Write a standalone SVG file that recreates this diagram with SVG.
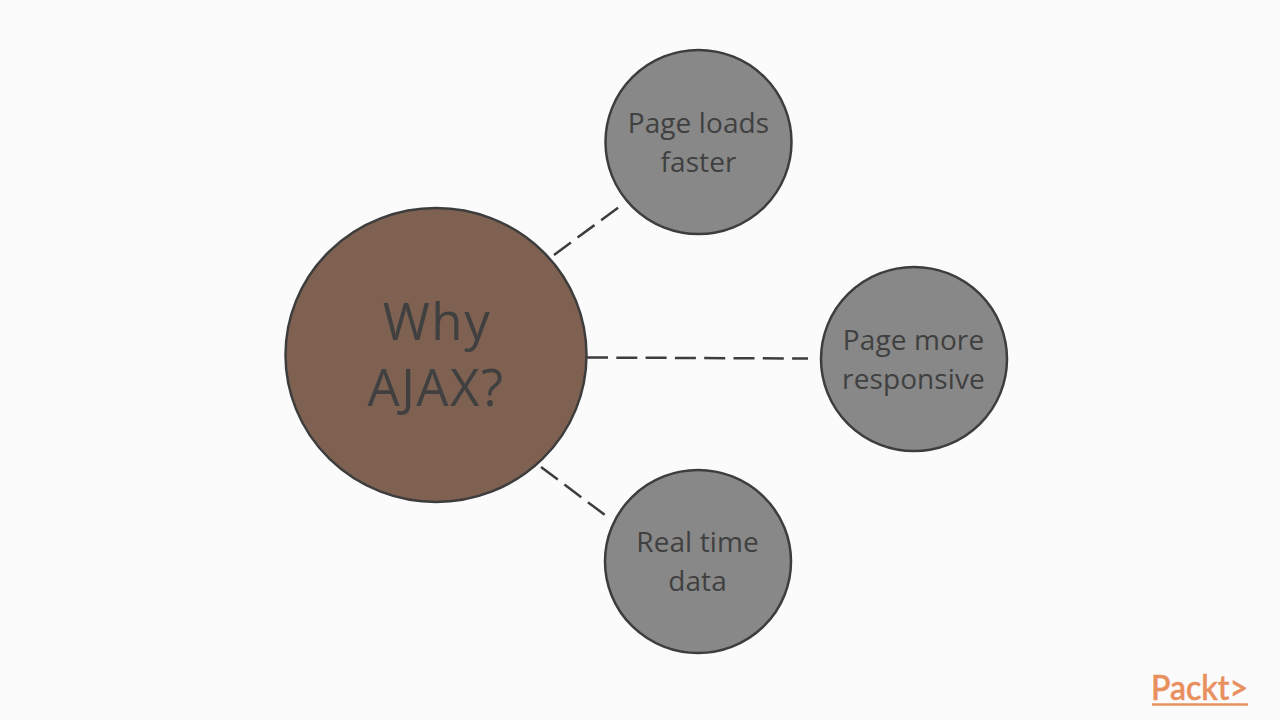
<svg xmlns="http://www.w3.org/2000/svg" width="1280" height="720" viewBox="0 0 1280 720">
<style>
.n{fill:#888888;stroke:#3d3d3d;stroke-width:2.500}
.t{font-family:"Open Sans","Noto Sans",sans-serif;fill:#404040;text-anchor:middle;font-size:28px;letter-spacing:.1px}
.b{font-size:51px;letter-spacing:1.500px}
.c{stroke:#3d3d3d;stroke-width:2.500;stroke-dasharray:21 8.300;fill:none}
</style>
<rect width="1280" height="720" fill="#fbfbfb"/>
<g id="connectors">
<path class="c" d="M554 255L619 207"/>
<path class="c" d="M587 357.500L808 358.500"/>
<path class="c" d="M541 467L605 515"/>
</g>
<g id="why"><ellipse class="n" style="fill:#7f6151" cx="436" cy="355" rx="150.500" ry="147"/><text class="t b" x="437" y="340">Why</text><text class="t b" x="436" y="406">AJAX?</text></g>
<g id="faster"><ellipse class="n" cx="698.500" cy="142" rx="93" ry="92"/><text class="t" x="698.500" y="133">Page loads</text><text class="t" x="698.500" y="172">faster</text></g>
<g id="responsive"><ellipse class="n" cx="914" cy="359" rx="93" ry="92"/><text class="t" x="913.500" y="350">Page more</text><text class="t" x="913.500" y="389">responsive</text></g>
<g id="realtime"><ellipse class="n" cx="698" cy="561.500" rx="93" ry="91.500"/><text class="t" x="697.500" y="552">Real time</text><text class="t" x="697.500" y="591">data</text></g>
<g id="logo"><text x="1151" y="700" font-family="Lato,sans-serif" font-size="34" font-weight="500" fill="#e9905f" stroke="#e9905f" stroke-width=".6" textLength="97" lengthAdjust="spacingAndGlyphs">Packt&gt;</text><path d="M1152 704.500H1248" stroke="#e9905f" stroke-width="2.500"/></g>
</svg>
